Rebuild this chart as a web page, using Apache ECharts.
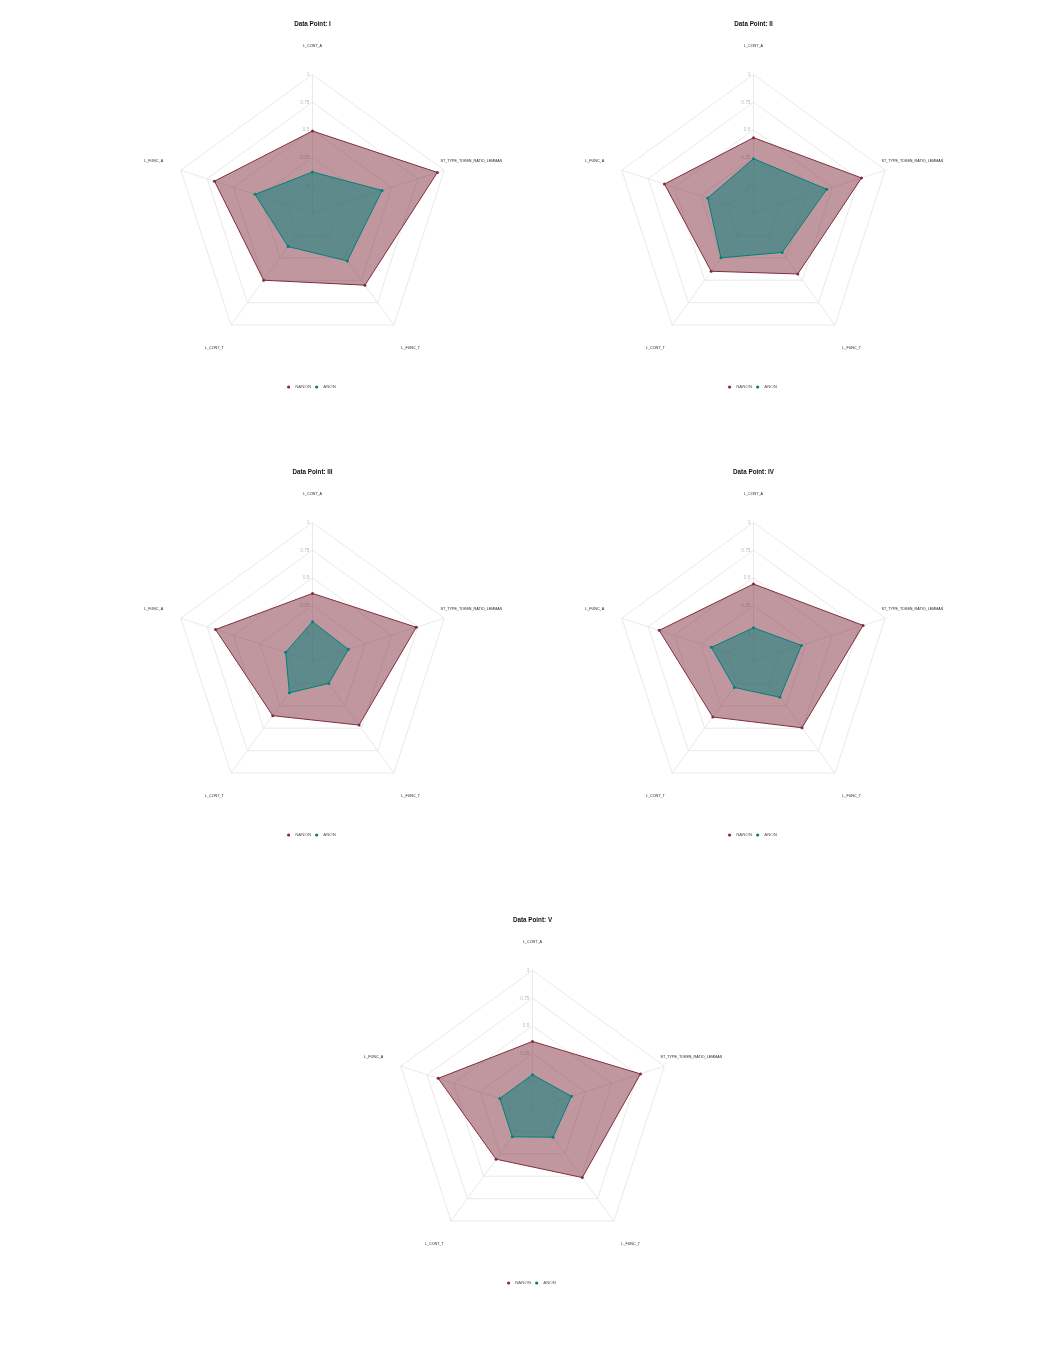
<!DOCTYPE html>
<html>
<head>
<meta charset="utf-8">
<script src="https://cdn.jsdelivr.net/npm/echarts@6/dist/echarts.min.js"></script>
<style>
html,body{margin:0;padding:0;background:#fff;width:1060px;height:1347px;overflow:hidden}
.cell{position:absolute;width:441px;height:448px}
</style>
</head>
<body>
<div id="c0" class="cell" style="left:91.5px;top:0px"></div>
<div id="c1" class="cell" style="left:532.5px;top:0px"></div>
<div id="c2" class="cell" style="left:91.5px;top:448px"></div>
<div id="c3" class="cell" style="left:532.5px;top:448px"></div>
<div id="c4" class="cell" style="left:311.5px;top:896px"></div>
<script>
// Indicators in ECharts (counter-clockwise) order starting at top
const indicatorNames = ['L_CONT_A', 'L_FUNC_A', 'L_CONT_T', 'L_FUNC_T', 'ST_TYPE_TOKEN_RATIO_LEMMAS'];
const seriesNames = ['NANON', 'ANON'];
const pointLabels = ['I', 'II', 'III', 'IV', 'V'];
const axisMin = -0.25;
const axisMax = 1;

const nanonI   = [0.49, 0.68, 0.50, 0.555, 0.935];
const anonI    = [0.12, 0.295, 0.125, 0.285, 0.41];
const nanonII  = [0.43, 0.595, 0.40, 0.43, 0.775];
const anonII   = [0.24, 0.185, 0.25, 0.19, 0.445];
const nanonIII = [0.36, 0.67, 0.36, 0.465, 0.735];
const anonIII  = [0.105, 0.005, 0.105, 0.0, 0.09];
const nanonIV  = [0.445, 0.645, 0.375, 0.495, 0.79];
const anonIV   = [0.05, 0.15, 0.045, 0.155, 0.205];
const nanonV   = [0.36, 0.645, 0.31, 0.515, 0.775];
const anonV    = [0.06, 0.06, 0.06, 0.065, 0.12];

const nanonAll = [nanonI, nanonII, nanonIII, nanonIV, nanonV];
const anonAll = [anonI, anonII, anonIII, anonIV, anonV];

const colors = ['#812d3f', '#00807a'];
const fontFamily = 'Liberation Sans, Arial, sans-serif';

function makeOption(k) {
  const indicator = indicatorNames.map(function (n, i) {
    const ind = { name: n, min: axisMin, max: axisMax };
    if (i === 0) ind.axisLabel = { show: true };
    return ind;
  });
  const values = [nanonAll[k], anonAll[k]];
  return {
    animation: false,
    title: {
      text: 'Data Point: ' + pointLabels[k],
      left: 'center',
      top: 16,
      textStyle: { fontSize: 6.3, fontWeight: 'bold', color: '#111', fontFamily: fontFamily }
    },
    legend: {
      data: seriesNames,
      left: 190,
      top: 380,
      icon: 'circle',
      itemWidth: 3.2,
      itemHeight: 3.2,
      itemGap: 4,
      textStyle: { fontSize: 4.4, color: '#555', fontFamily: fontFamily }
    },
    radar: {
      center: ['50%', 213],
      radius: 138.5,
      shape: 'polygon',
      splitNumber: 5,
      nameGap: 28.5,
      indicator: indicator,
      axisName: {
        color: '#222',
        fontSize: 3.7,
        fontFamily: fontFamily,
        align: 'center',
        verticalAlign: 'middle'
      },
      axisLabel: {
        show: false,
        fontSize: 4.8,
        color: '#bbb',
        margin: 3,
        fontFamily: fontFamily,
        formatter: function (v) { return v < 0 ? '' : String(v); }
      },
      splitLine: { lineStyle: { color: '#e3e3e3', width: 0.8 } },
      axisLine: { lineStyle: { color: '#e3e3e3', width: 0.8 } },
      splitArea: { show: false },
      axisTick: { show: false }
    },
    series: [{
      type: 'radar',
      symbol: 'circle',
      symbolSize: 3,
      data: seriesNames.map(function (n, i) {
        return {
          name: n,
          value: values[i],
          itemStyle: { color: colors[i] },
          lineStyle: { color: colors[i], width: 1 },
          areaStyle: { color: colors[i], opacity: 0.5 }
        };
      })
    }]
  };
}

for (let k = 0; k < 5; k++) {
  const chart = echarts.init(document.getElementById('c' + k), null, { renderer: 'canvas' });
  chart.setOption(makeOption(k));
}
</script>
</body>
</html>
